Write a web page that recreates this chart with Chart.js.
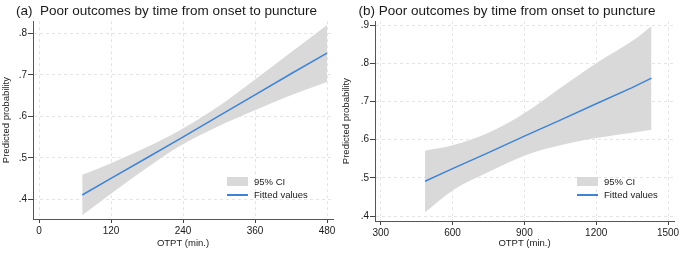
<!DOCTYPE html>
<html>
<head>
<meta charset="utf-8">
<script src="https://cdn.jsdelivr.net/npm/chart.js@4/dist/chart.umd.min.js"></script>
<style>
  body { margin: 0; background: #fff; font-family: 'Liberation Sans', Arial, sans-serif; }
  .panel { position: absolute; top: 0; height: 255px; }
  .legend { position: absolute; width: 100px; height: 30px; font-size: 9.5px; color: #222; }
  .legend .box { position: absolute; left: 0; width: 21px; height: 9px; background: #d9d9d9; }
  .legend .line { position: absolute; left: 0; width: 21px; height: 2px; background: #3f83d6; }
  .legend .txt { position: absolute; left: 27px; line-height: 12px; white-space: nowrap; }
</style>
</head>
<body>
<div class="panel" style="left:0;width:340px;">
  <canvas id="chartA"></canvas>
  <div class="legend" style="left:227px;top:177px;">
    <div class="box" style="top:0"></div><div class="txt" style="top:-1px">95% CI</div>
    <div class="line" style="top:17px"></div><div class="txt" style="top:12px">Fitted values</div>
  </div>
</div>
<div class="panel" style="left:340px;width:345px;">
  <canvas id="chartB"></canvas>
  <div class="legend" style="left:237px;top:177px;">
    <div class="box" style="top:0"></div><div class="txt" style="top:-1px">95% CI</div>
    <div class="line" style="top:17px"></div><div class="txt" style="top:12px">Fitted values</div>
  </div>
</div>
<script>
// Panel (a): OTPT up to 480 min
const otptA = [72, 120, 180, 234, 300, 360, 420, 480];
const fittedA = [0.410, 0.450, 0.500, 0.545, 0.601, 0.652, 0.703, 0.753];
const ciLowA = [0.361, 0.413, 0.476, 0.528, 0.577, 0.615, 0.651, 0.683];
const ciHighA = [0.459, 0.487, 0.526, 0.566, 0.625, 0.689, 0.755, 0.821];
const xTicksA = [0, 120, 240, 360, 480];
const yTicksA = [0.4, 0.5, 0.6, 0.7, 0.8];

// Panel (b): OTPT up to 1500 min
const otptB = [485, 600, 750, 900, 1050, 1200, 1350, 1431];
const fittedB = [0.491, 0.524, 0.566, 0.609, 0.651, 0.694, 0.736, 0.761];
const ciLowB = [0.410, 0.467, 0.515, 0.558, 0.585, 0.604, 0.618, 0.626];
const ciHighB = [0.571, 0.585, 0.618, 0.669, 0.735, 0.800, 0.858, 0.897];
const xTicksB = [300, 600, 900, 1200, 1500];
const yTicksB = [0.4, 0.5, 0.6, 0.7, 0.8, 0.9];

const FONT = "'Liberation Sans', Arial, sans-serif";
const pts = (xs, ys) => xs.map((x, i) => ({ x: x, y: ys[i] }));

function makeChart(id, title, xs, fit, lo, hi, xTicks, yTicks, xMin, xMax, yMin, yMax, yWidth, xHeight, padRight) {
    const ctx = document.getElementById(id).getContext('2d');
    return new Chart(ctx, {
        type: 'line',
        data: {
            datasets: [
                // CI band: upper edge filled down to the lower edge
                { label: '95% CI', data: pts(xs, hi), borderWidth: 0, backgroundColor: '#d9d9d9', fill: '+1',
                  cubicInterpolationMode: 'monotone', pointRadius: 0, order: 2 },
                { label: 'lower', data: pts(xs, lo), borderWidth: 0, backgroundColor: '#d9d9d9', fill: false,
                  cubicInterpolationMode: 'monotone', pointRadius: 0, order: 2 },
                { label: 'Fitted values', data: pts(xs, fit), borderColor: '#3f83d6', borderWidth: 1.5, fill: false,
                  tension: 0, pointRadius: 0, order: 0 }
            ]
        },
        options: {
            responsive: true,
            maintainAspectRatio: false,
            animation: false,
            layout: { padding: { top: 0, right: padRight, bottom: 0, left: 0 } },
            plugins: {
                legend: { display: false },
                tooltip: { enabled: false },
                title: {
                    display: true,
                    text: title,
                    color: '#1a1a1a',
                    font: { family: FONT, size: 13.5, weight: 'normal' },
                    padding: { top: 3, bottom: 2 }
                }
            },
            scales: {
                x: {
                    type: 'linear',
                    min: xMin,
                    max: xMax,
                    afterBuildTicks: s => { s.ticks = xTicks.map(v => ({ value: v })); },
                    afterFit: s => { s.height = xHeight; },
                    grid: { color: '#e4e4e4', tickColor: '#444', tickLength: 4, tickBorderDash: [] },
                    border: { color: '#555', width: 1, dash: [3, 3] },
                    ticks: { color: '#1a1a1a', padding: 2, font: { family: FONT, size: 10 }, maxRotation: 0,
                             callback: v => String(v) },
                    title: { display: true, text: 'OTPT (min.)', color: '#1a1a1a', font: { family: FONT, size: 9.5 }, padding: { top: 0, bottom: 6 } }
                },
                y: {
                    type: 'linear',
                    min: yMin,
                    max: yMax,
                    afterBuildTicks: s => { s.ticks = yTicks.map(v => ({ value: v })); },
                    afterFit: s => { s.width = yWidth; },
                    grid: { color: '#e4e4e4', tickColor: '#444', tickLength: 5, tickBorderDash: [] },
                    border: { color: '#555', width: 1, dash: [3, 3] },
                    ticks: {
                        color: '#1a1a1a', padding: 1, font: { family: FONT, size: 10 },
                        callback: v => Number(v).toFixed(1).replace(/^0/, '')
                    },
                    title: { display: true, text: 'Predicted probability', color: '#1a1a1a', font: { family: FONT, size: 9.5 }, padding: { top: 0.5, bottom: 0 } }
                }
            }
        }
    });
}

const chartA = makeChart('chartA', '(a)  Poor outcomes by time from onset to puncture',
    otptA, fittedA, ciLowA, ciHighA, xTicksA, yTicksA, -10, 490, 0.352, 0.83, 33, 36, 7);

const chartB = makeChart('chartB', '(b) Poor outcomes by time from onset to puncture',
    otptB, fittedB, ciLowB, ciHighB, xTicksB, yTicksB, 276, 1525, 0.387, 0.91, 35, 34, 11);
</script>
</body>
</html>
